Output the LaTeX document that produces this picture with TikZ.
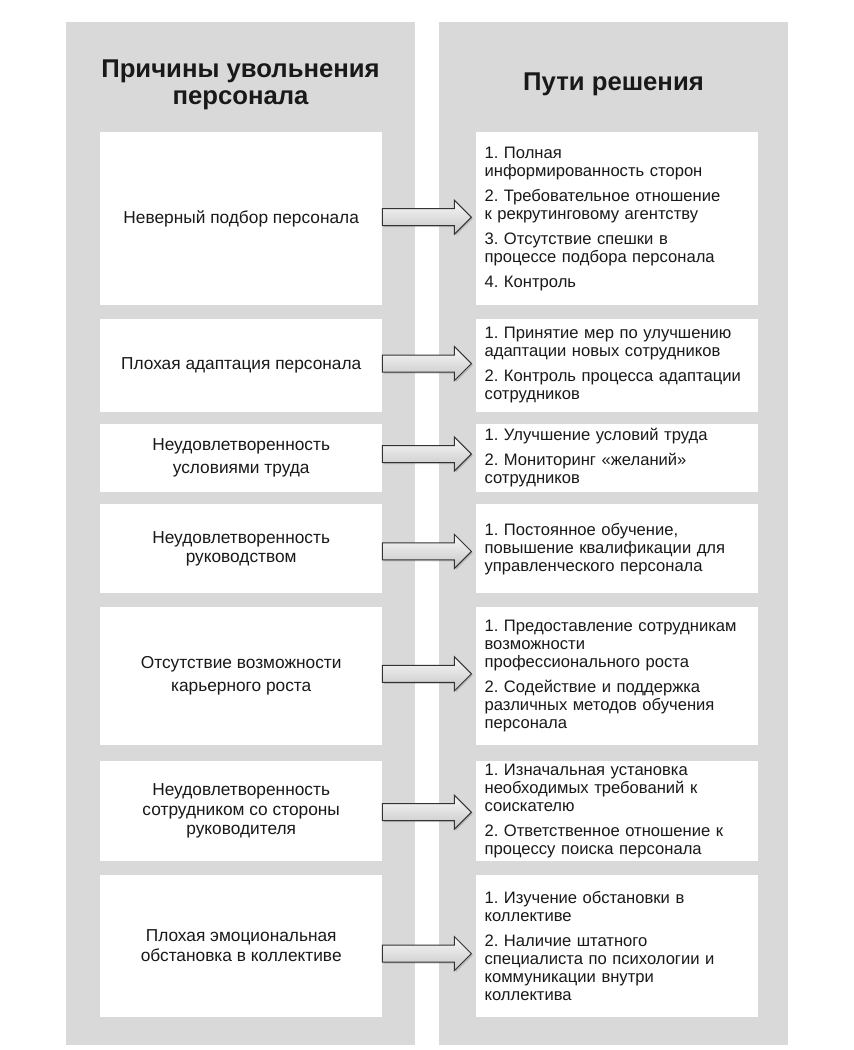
\documentclass[tikz,border=0pt]{standalone}
\usepackage{fontspec}
\setmainfont{Liberation Sans}
\usepackage{tikz}
\usetikzlibrary{positioning, calc, shadows}
\frenchspacing

\definecolor{panelgray}{RGB}{217,217,217}
\definecolor{inkgray}{RGB}{25,25,25}

\tikzset{
  panel/.style={fill=panelgray, draw=none},
  headtext/.style={font=\fontsize{25.7}{27}\selectfont\bfseries, text=inkgray, align=center, inner sep=0pt},
  reasonbox/.style={fill=white, minimum width=282pt, inner xsep=6pt, inner ysep=2pt, align=center, text=inkgray, font=\fontsize{17.3}{19.5}\selectfont},
  remedybox/.style={fill=white, minimum width=282pt, text width=264pt, inner xsep=9pt, inner ysep=2pt, align=left, text=inkgray, font=\fontsize{16.6}{18}\selectfont},
  blockarrow/.style={draw=black!80, line width=1pt, top color=gray!5, bottom color=gray!45, drop shadow={shadow xshift=1.5pt, shadow yshift=-1.5pt, opacity=0.35}},
}

% block arrow: from, to, vertical shift
\newcommand{\blockarrow}[3]{%
  \path[blockarrow]
    ($(#1.east)+(0,#3+8.5)$) -- ($(#2.west)+(-21,#3+8.5)$) -- ($(#2.west)+(-21,#3+17)$)
    -- ($(#2.west)+(-4,#3)$) -- ($(#2.west)+(-21,#3-17)$) -- ($(#2.west)+(-21,#3-8.5)$)
    -- ($(#1.east)+(0,#3-8.5)$) -- cycle;}

\begin{document}
\begin{tikzpicture}[x=1pt, y=1pt]
    \useasboundingbox (0,0) rectangle (854,-1050);

    % Gray columns
    \fill[panel] (66,-22) rectangle (415,-1045);
    \fill[panel] (439,-22) rectangle (788,-1045);

    % Headings
    \node[headtext, anchor=north] (reasonhead) at (240.5,-60) {Причины увольнения\\персонала};
    \node[headtext, anchor=base] (remedyhead) at (613.5,-90) {Пути решения};

    % Reasons (left)
    \node[reasonbox, minimum height=173pt, anchor=north west] (reason1) at (100,-132) {Неверный подбор персонала};
    \node[reasonbox, minimum height=93pt, below=13pt of reason1] (reason2) {Плохая адаптация персонала};
    \node[reasonbox, minimum height=68pt, below=12pt of reason2] (reason3) {Неудовлетворенность\\[3pt]условиями труда};
    \node[reasonbox, minimum height=89pt, below=12pt of reason3] (reason4) {Неудовлетворенность\\руководством};
    \node[reasonbox, minimum height=138pt, below=13pt of reason4] (reason5) {Отсутствие возможности\\[3pt]карьерного роста};
    \node[reasonbox, minimum height=100pt, below=16pt of reason5] (reason6) {Неудовлетворенность\\сотрудником со стороны\\руководителя};
    \node[reasonbox, minimum height=142pt, below=13pt of reason6] (reason7) {Плохая эмоциональная\\обстановка в коллективе};

    % Remedies (right)
    \node[remedybox, minimum height=173pt, right=93pt of reason1] (remedy1) {1. Полная\\информированность сторон\\[7pt]2. Требовательное отношение\\к рекрутинговому агентству\\[7pt]3. Отсутствие спешки в\\процессе подбора персонала\\[7pt]4. Контроль};
    \node[remedybox, minimum height=93pt, right=93pt of reason2] (remedy2) {1. Принятие мер по улучшению\\адаптации новых сотрудников\\[7pt]\mbox{2. Контроль процесса адаптации}\\сотрудников};
    \node[remedybox, minimum height=68pt, right=93pt of reason3] (remedy3) {1. Улучшение условий труда\\[7pt]2. Мониторинг «желаний»\\сотрудников};
    \node[remedybox, minimum height=89pt, right=93pt of reason4] (remedy4) {1. Постоянное обучение,\\повышение квалификации для\\управленческого персонала};
    \node[remedybox, minimum height=138pt, right=93pt of reason5] (remedy5) {\mbox{1. Предоставление сотрудникам}\\возможности\\профессионального роста\\[7pt]2. Содействие и поддержка\\различных методов обучения\\персонала};
    \node[remedybox, minimum height=100pt, right=93pt of reason6] (remedy6) {1. Изначальная установка\\необходимых требований к\\соискателю\\[7pt]2. Ответственное отношение к\\процессу поиска персонала};
    \node[remedybox, minimum height=142pt, right=93pt of reason7] (remedy7) {1. Изучение обстановки в\\коллективе\\[7pt]2. Наличие штатного\\специалиста по психологии и\\коммуникации внутри\\коллектива};

    % Arrows between rows
    \foreach \i/\dy in {1/1.5, 2/1.5, 3/4, 4/-2.5, 5/2, 6/-1, 7/-8}
        \blockarrow{reason\i}{remedy\i}{\dy};
\end{tikzpicture}
\end{document}
